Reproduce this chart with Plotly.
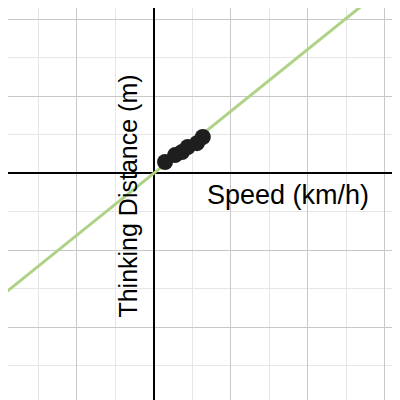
import plotly.graph_objects as go

# Datos
speed = [2.9, 5.5, 7.3, 8.8, 11.2, 12.7]
thinking = [2.9, 4.7, 5.5, 6.8, 7.8, 9.4]
fit_slope = 0.805
fit_x = [-45, 70]
fit_y = [fit_slope * x for x in fit_x]

fig = go.Figure()
fig.add_trace(go.Scatter(x=fit_x, y=fit_y, mode="lines",
                         line=dict(color="rgb(175,210,135)", width=3)))
fig.add_trace(go.Scatter(x=speed, y=thinking, mode="markers",
                         marker=dict(color="rgb(30,30,30)", size=16)))

axis = dict(showgrid=True, gridcolor="rgb(200,200,200)", gridwidth=1, dtick=20,
            minor=dict(dtick=10, showgrid=True, gridcolor="rgb(230,230,230)", gridwidth=1),
            zeroline=True, zerolinecolor="black", zerolinewidth=1.5,
            showticklabels=False, ticks="")
fig.update_layout(
    width=400, height=400, margin=dict(l=0, r=0, t=0, b=0),
    plot_bgcolor="white", paper_bgcolor="white", showlegend=False,
    xaxis=dict(axis, range=[-37.9, 66]),
    yaxis=dict(axis, range=[-61, 42.9]),
    font=dict(family="Liberation Sans, Arial", size=25, color="black"),
)
fig.add_annotation(x=56.4, y=-5.7, text="Speed (km/h)", font=dict(size=27),
                   showarrow=False, xanchor="right", yanchor="middle")
fig.add_annotation(x=-6.8, y=-5.9, text="Thinking Distance (m)",
                   showarrow=False, textangle=-90)
fig.write_html("out.html")
